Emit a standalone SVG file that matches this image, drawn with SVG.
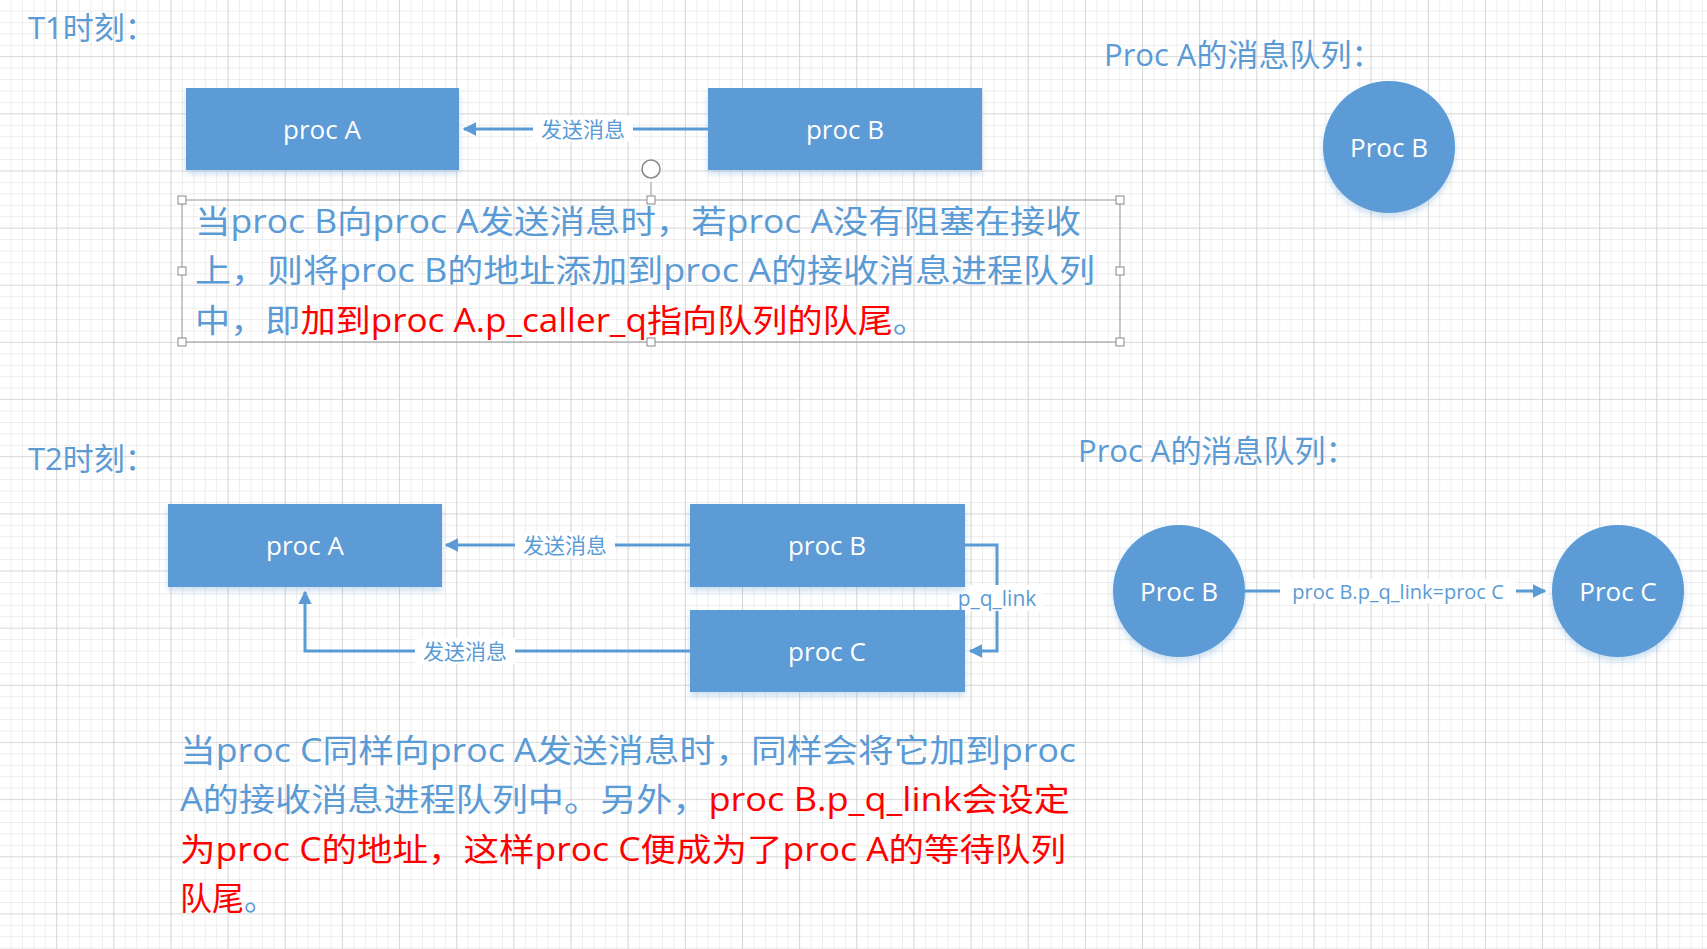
<svg xmlns="http://www.w3.org/2000/svg" width="1707" height="949" viewBox="0 0 1707 949">
<defs>
<pattern id="minor" width="11.43" height="11.43" patternUnits="userSpaceOnUse"><path d="M11.43 0V11.43H0" fill="none" stroke="#dcdcdc" stroke-width="1"/></pattern>
<pattern id="major" width="57.15" height="57.15" patternUnits="userSpaceOnUse"><path d="M57.15 0V57.15H0" fill="none" stroke="#c8c8c8" stroke-width="1.2"/></pattern>
<marker id="ah" viewBox="0 0 10 10" refX="9" refY="5" markerWidth="4.5" markerHeight="4.5" orient="auto-start-reverse" markerUnits="strokeWidth"><path d="M0 0L10 5L0 10z" fill="#5B9BD5"/></marker>
<filter id="sh" x="-10%" y="-10%" width="120%" height="130%"><feDropShadow dx="0" dy="4" stdDeviation="3" flood-color="#5B9BD5" flood-opacity="0.3"/></filter>
</defs>
<style>
text{font-family:"Open Sans","Noto Sans CJK SC",sans-serif}
.box{fill:#5B9BD5;filter:url(#sh)}
.nt{fill:#fff;font-size:26px;text-anchor:middle;dominant-baseline:central}
.ttl{fill:#5B9BD5;font-size:31px}
.body{fill:#5B9BD5;font-size:32px}
.red{fill:#FF0000}
.ln{fill:none;stroke:#5B9BD5;stroke-width:3}
.lb{fill:#5B9BD5;font-size:21px;text-anchor:middle;dominant-baseline:central}
.lbg{fill:#fff}
.hd{fill:#fff;stroke:#888;stroke-width:1}
</style>
<rect width="1707" height="949" fill="#fff"/>
<rect width="1707" height="949" fill="url(#minor)"/>
<rect width="1707" height="949" fill="url(#major)"/>

<text class="ttl" x="28" y="39">T1时刻：</text>
<text class="ttl" x="1104" y="66">Proc A的消息队列：</text>
<text class="ttl" x="28" y="470">T2时刻：</text>
<text class="ttl" x="1078" y="462">Proc A的消息队列：</text>

<g id="connectors">
<line class="ln" x1="708" y1="129" x2="464" y2="129" marker-end="url(#ah)"/>
<rect class="lbg" x="533" y="116" width="100" height="26"/>
<text class="lb" x="583" y="129">发送消息</text>

<line class="ln" x1="690" y1="545" x2="446" y2="545" marker-end="url(#ah)"/>
<rect class="lbg" x="515" y="532" width="100" height="26"/>
<text class="lb" x="565" y="545">发送消息</text>

<polyline class="ln" points="690,651 305,651 305,592" marker-end="url(#ah)"/>
<rect class="lbg" x="415" y="638" width="100" height="26"/>
<text class="lb" x="465" y="651">发送消息</text>

<polyline class="ln" points="965,545 997,545 997,651 970,651" marker-end="url(#ah)"/>
<rect class="lbg" x="952" y="585" width="90" height="26"/>
<text class="lb" x="997" y="598">p_q_link</text>

<line class="ln" x1="1245" y1="591" x2="1545" y2="591" marker-end="url(#ah)"/>
<rect class="lbg" x="1280" y="579" width="236" height="24"/>
<text class="lb" x="1398" y="591" style="font-size:20px">proc B.p_q_link=proc C</text>
</g>

<g id="t1-procA"><rect class="box" x="186" y="88" width="273" height="82"/><text class="nt" x="322" y="129">proc A</text></g>
<g id="t1-procB"><rect class="box" x="708" y="88" width="274" height="82"/><text class="nt" x="845" y="129">proc B</text></g>
<g id="t1-queueB"><circle class="box" cx="1389" cy="147" r="66"/><text class="nt" x="1389" y="147">Proc B</text></g>

<g id="t2-procA"><rect class="box" x="168" y="504" width="274" height="83"/><text class="nt" x="305" y="545">proc A</text></g>
<g id="t2-procB"><rect class="box" x="690" y="504" width="275" height="83"/><text class="nt" x="827" y="545">proc B</text></g>
<g id="t2-procC"><rect class="box" x="690" y="610" width="275" height="82"/><text class="nt" x="827" y="651">proc C</text></g>
<g id="t2-queueB"><circle class="box" cx="1179" cy="591" r="66"/><text class="nt" x="1179" y="591">Proc B</text></g>
<g id="t2-queueC"><circle class="box" cx="1618" cy="591" r="66"/><text class="nt" x="1618" y="591">Proc C</text></g>

<g id="textbox1">
<rect x="182" y="200" width="938" height="142" fill="none" stroke="#999" stroke-width="1"/>
<rect class="hd" x="178" y="196" width="8" height="8"/><rect class="hd" x="647" y="196" width="8" height="8"/><rect class="hd" x="1116" y="196" width="8" height="8"/>
<rect class="hd" x="178" y="267" width="8" height="8"/><rect class="hd" x="1116" y="267" width="8" height="8"/>
<rect class="hd" x="178" y="338" width="8" height="8"/><rect class="hd" x="647" y="338" width="8" height="8"/><rect class="hd" x="1116" y="338" width="8" height="8"/>
<line x1="651" y1="182" x2="651" y2="196" stroke="#999"/>
<circle cx="651" cy="169" r="9" fill="#fff" stroke="#888" stroke-width="1.5"/>
<text class="body" x="195" y="233" textLength="886" lengthAdjust="spacingAndGlyphs">当proc B向proc A发送消息时，若proc A没有阻塞在接收</text>
<text class="body" x="195" y="282" textLength="900" lengthAdjust="spacingAndGlyphs">上，则将proc B的地址添加到proc A的接收消息进程队列</text>
<text class="body" x="195" y="332" textLength="733" lengthAdjust="spacingAndGlyphs">中，即<tspan class="red">加到proc A.p_caller_q指向队列的队尾</tspan>。</text>
</g>

<g id="textbox2">
<text class="body" x="180" y="762" textLength="896" lengthAdjust="spacingAndGlyphs">当proc C同样向proc A发送消息时，同样会将它加到proc</text>
<text class="body" x="180" y="811" textLength="890" lengthAdjust="spacingAndGlyphs">A的接收消息进程队列中。另外，<tspan class="red">proc B.p_q_link会设定</tspan></text>
<text class="body red" x="180" y="861" textLength="886" lengthAdjust="spacingAndGlyphs">为proc C的地址，这样proc C便成为了proc A的等待队列</text>
<text class="body" x="180" y="910"><tspan class="red">队尾</tspan>。</text>
</g>
</svg>
